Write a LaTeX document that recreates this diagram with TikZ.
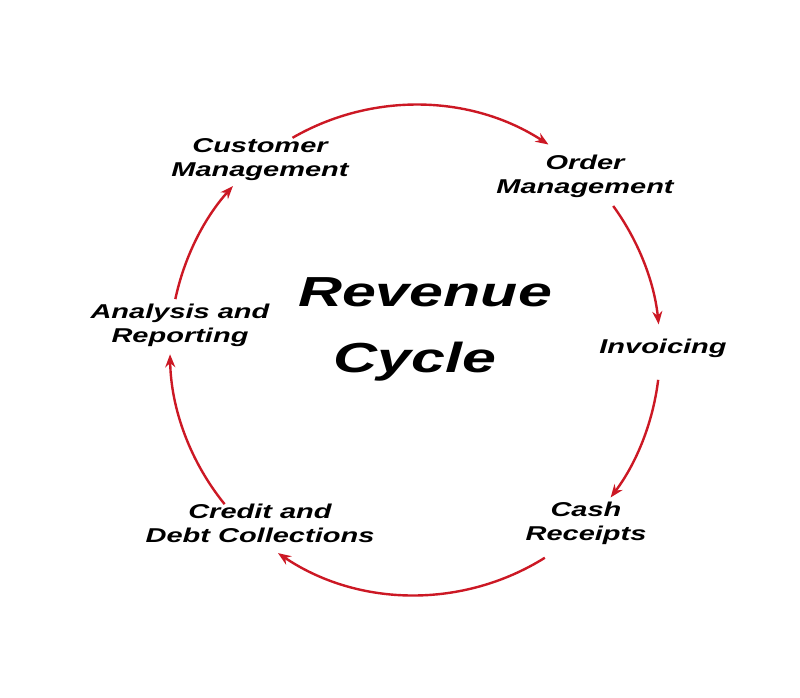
\documentclass[tikz,border=0pt]{standalone}
\usepackage{fontspec}
\setmainfont{Liberation Sans}
\usetikzlibrary{arrows.meta}
\definecolor{arcred}{RGB}{204,24,36}
\newfontfamily\lblfont[FakeStretch=1.45]{Liberation Sans}
\tikzset{
  lbl/.style={font=\lblfont\bfseries\itshape\fontsize{20}{24}\selectfont, align=center, inner sep=0pt},
  ttl/.style={font=\lblfont\bfseries\itshape\fontsize{42}{44}\selectfont, inner sep=0pt},
  arcline/.style={draw=arcred, line width=2.4pt, -{Stealth[length=13pt,width=10pt]}}
}
\begin{document}
\begin{tikzpicture}[x=1pt,y=1pt]
\useasboundingbox (0,0) rectangle (800,698);
\fill[white] (0,0) rectangle (800,698);
\coordinate (C) at (415,348);
\node[lbl] (cm) at (260,538) {Customer\\Management};
\node[lbl] (om) at (585,522) {Order\\Management};
\node[lbl] (inv) at (663,350) {Invoicing};
\node[lbl] (cr) at (586,175) {Cash\\Receipts};
\node[lbl] (cdc) at (260,175) {Credit and\\Debt Collections};
\node[lbl] (ar) at (180,373) {Analysis and\\Reporting};
\node[ttl] (rev) at (425,406) {Revenue};
\node[ttl] (cyc) at (415,336) {Cycle};
\draw[arcline] ([shift={(120:245)}]C) arc[start angle=120,end angle=57,radius=245];
\draw[arcline] ([shift={(36:245)}]C) arc[start angle=36,end angle=6,radius=245];
\draw[arcline] ([shift={(-7:245)}]C) arc[start angle=-7,end angle=-37,radius=245];
\draw[arcline] ([shift={(-58:245)}]C) arc[start angle=-58,end angle=-124,radius=245];
\draw[arcline] ([shift={(-141:245)}]C) arc[start angle=-141,end angle=-179,radius=245];
\draw[arcline] ([shift={(168:245)}]C) arc[start angle=168,end angle=138,radius=245];
\end{tikzpicture}
\end{document}
